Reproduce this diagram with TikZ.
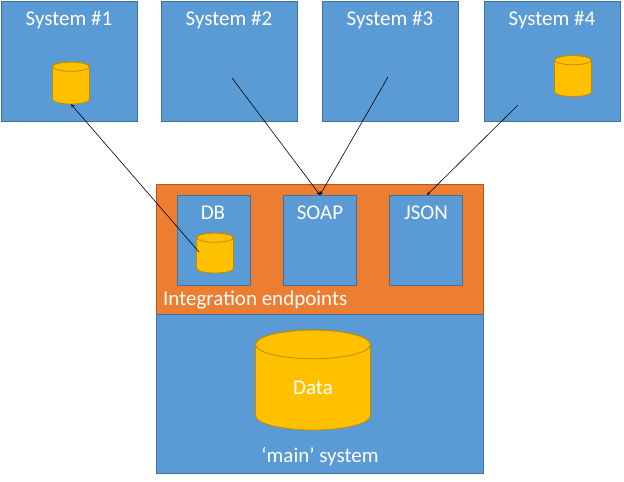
\documentclass[tikz,border=0pt]{standalone}
\usepackage{fontspec}
\setmainfont{Carlito}
\definecolor{bl}{HTML}{5B9BD5}
\definecolor{bld}{HTML}{41719C}
\definecolor{orn}{HTML}{ED7D31}
\definecolor{ornd}{HTML}{AE5A21}
\definecolor{cy}{HTML}{FFC000}
\definecolor{cyd}{HTML}{BC8C00}
\newcommand\mycyl[5]{% name, cx, cy, w, h
  \node[inner sep=0pt,minimum width=#4,minimum height=#5] (#1) at (#2,#3) {};
  \pgfmathsetmacro\rx{#4/2}\pgfmathsetmacro\ry{#4/8}
  \filldraw[draw=cyd,fill=cy,line width=0.8pt]
    (#2-\rx,#3-#5/2+\ry) -- (#2-\rx,#3+#5/2-\ry)
    arc[start angle=180,end angle=360,x radius=\rx,y radius=-\ry]
    -- (#2+\rx,#3-#5/2+\ry) arc[start angle=0,end angle=180,x radius=\rx,y radius=-\ry] -- cycle;
  \draw[draw=cyd,line width=0.8pt] (#2,#3-#5/2+\ry) ellipse[x radius=\rx,y radius=\ry];
}
\begin{document}
\begin{tikzpicture}[x=1pt,y=-1pt,
  box/.style={draw=bld,fill=bl,line width=0.8pt},
  lbl/.style={text=white,font=\fontsize{21}{24}\selectfont,inner sep=0pt},
  arr/.style={-stealth,line width=0.6pt,black}]
\useasboundingbox (0,0) rectangle (624,482);
\foreach \i/\x in {1/1,2/161,3/322,4/484}{
  \draw[box] (\x,1) rectangle ++(136,120);
  \node[lbl] (s\i) at (\x+68,20) {System \#\i};
}
\draw[draw=ornd,fill=orn,line width=0.8pt] (156,184) rectangle (483,314);
\draw[box] (156,314) rectangle (483,473);
\draw[box] (177,195) rectangle (250,285);
\draw[box] (283,195) rectangle (356,285);
\draw[box] (389,195) rectangle (462,285);
\coordinate (soap) at (320,195);
\coordinate (json) at (427,195);
\node[lbl] (db) at (213,213) {DB};
\node[lbl] (soapl) at (320,213) {SOAP};
\node[lbl] (jsonl) at (426,213) {JSON};
\node[lbl,anchor=west] (ie) at (163,300) {Integration endpoints};
\mycyl{c1}{71}{83}{37}{42}
\mycyl{c4}{573}{76}{37}{41}
\mycyl{cdb}{215}{253}{37}{40}
\mycyl{data}{313}{380}{115}{100}
\node[lbl] at (313,388) {Data};
\node[lbl] (main) at (320,457) {‘main’ system};
\coordinate (a2) at (232,78);
\coordinate (a3) at (388,77);
\coordinate (a4) at (518,105);
\draw[arr] (199,252) -- (c1.south);
\draw[arr] (a2) -- (soap);
\draw[arr] (a3) -- (soap);
\draw[arr] (a4) -- (json);
\end{tikzpicture}
\end{document}
